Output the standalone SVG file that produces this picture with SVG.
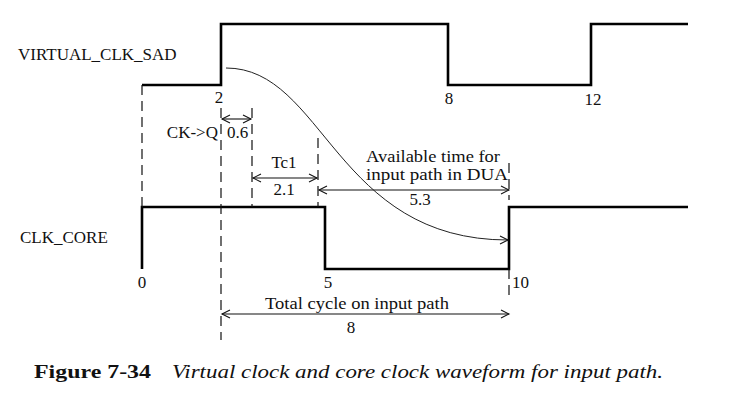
<svg xmlns="http://www.w3.org/2000/svg" width="735" height="400" viewBox="0 0 735 400">
<defs>
<marker id="ah" markerUnits="userSpaceOnUse" markerWidth="12" markerHeight="12" viewBox="-10 -6 12 12" refX="0" refY="0" orient="auto-start-reverse">
<path d="M-8,-4 L0,0 L-8,4" fill="none" stroke="#111" stroke-width="1.1"/>
</marker>
</defs>
<style>
.wave{fill:none;stroke:#000;stroke-width:2.6;stroke-linejoin:miter}
.dash{fill:none;stroke:#111;stroke-width:1.2;stroke-dasharray:10 6}
.arr{fill:none;stroke:#111;stroke-width:1.1;marker-start:url(#ah);marker-end:url(#ah)}
.t{font-family:"Liberation Serif","Times New Roman",serif;font-size:17px;fill:#111}
.m{text-anchor:middle}
.cap{font-family:"Liberation Serif","Times New Roman",serif;fill:#111}
</style>
<rect width="735" height="400" fill="#fff"/>
<g id="virtual_clk_sad">
<text class="t" x="18" y="60">VIRTUAL_CLK_SAD</text>
<path class="wave" d="M142,85 H221 V24 H448 V85 H591 V24 H688"/>
<text class="t m" x="219" y="103">2</text>
<text class="t m" x="449" y="104">8</text>
<text class="t m" x="593" y="105">12</text>
</g>
<g id="clk_core">
<text class="t" x="20" y="243">CLK_CORE</text>
<path class="wave" d="M142,269 V207 H325 V269 H509 V207 H688"/>
<text class="t m" x="142" y="288">0</text>
<text class="t m" x="328" y="288">5</text>
<text class="t" x="512" y="288">10</text>
</g>
<g id="connectors">
<line class="dash" x1="142" y1="85" x2="142" y2="207"/>
<line class="dash" x1="221" y1="108" x2="221" y2="340"/>
<line class="dash" x1="252" y1="108" x2="252" y2="207"/>
<line class="dash" x1="318" y1="138" x2="318" y2="207"/>
<line class="dash" x1="509" y1="163" x2="509" y2="200"/>
<line class="dash" x1="509" y1="269" x2="509" y2="300"/>
<line class="arr" x1="222" y1="119" x2="251" y2="119"/>
<line class="arr" x1="253" y1="178" x2="317" y2="178"/>
<line class="arr" x1="319" y1="190" x2="509" y2="190"/>
<line class="arr" x1="222" y1="314" x2="509" y2="314"/>
<path d="M226,68 C324,68 335,240 508,240" fill="none" stroke="#222" stroke-width="1" marker-end="url(#ah)"/>
</g>
<g id="labels">
<text class="t" x="218" y="138" text-anchor="end">CK-&gt;Q</text>
<text class="t" x="227" y="138">0.6</text>
<text class="t m" x="284" y="168">Tc1</text>
<text class="t m" x="284" y="195">2.1</text>
<text class="t" x="366" y="162" textLength="134" lengthAdjust="spacingAndGlyphs">Available time for</text>
<text class="t" x="366" y="180" textLength="142" lengthAdjust="spacingAndGlyphs">input path in DUA</text>
<text class="t m" x="420" y="205">5.3</text>
<text class="t" x="265" y="309" textLength="184" lengthAdjust="spacingAndGlyphs">Total cycle on input path</text>
<text class="t m" x="351" y="333">8</text>
</g>
<g id="caption">
<text class="cap" x="34" y="378" font-size="19" font-weight="bold" textLength="117" lengthAdjust="spacingAndGlyphs">Figure 7-34</text>
<text class="cap" x="172" y="378" font-size="19" font-style="italic" textLength="491" lengthAdjust="spacingAndGlyphs">Virtual clock and core clock waveform for input path.</text>
</g>
</svg>
